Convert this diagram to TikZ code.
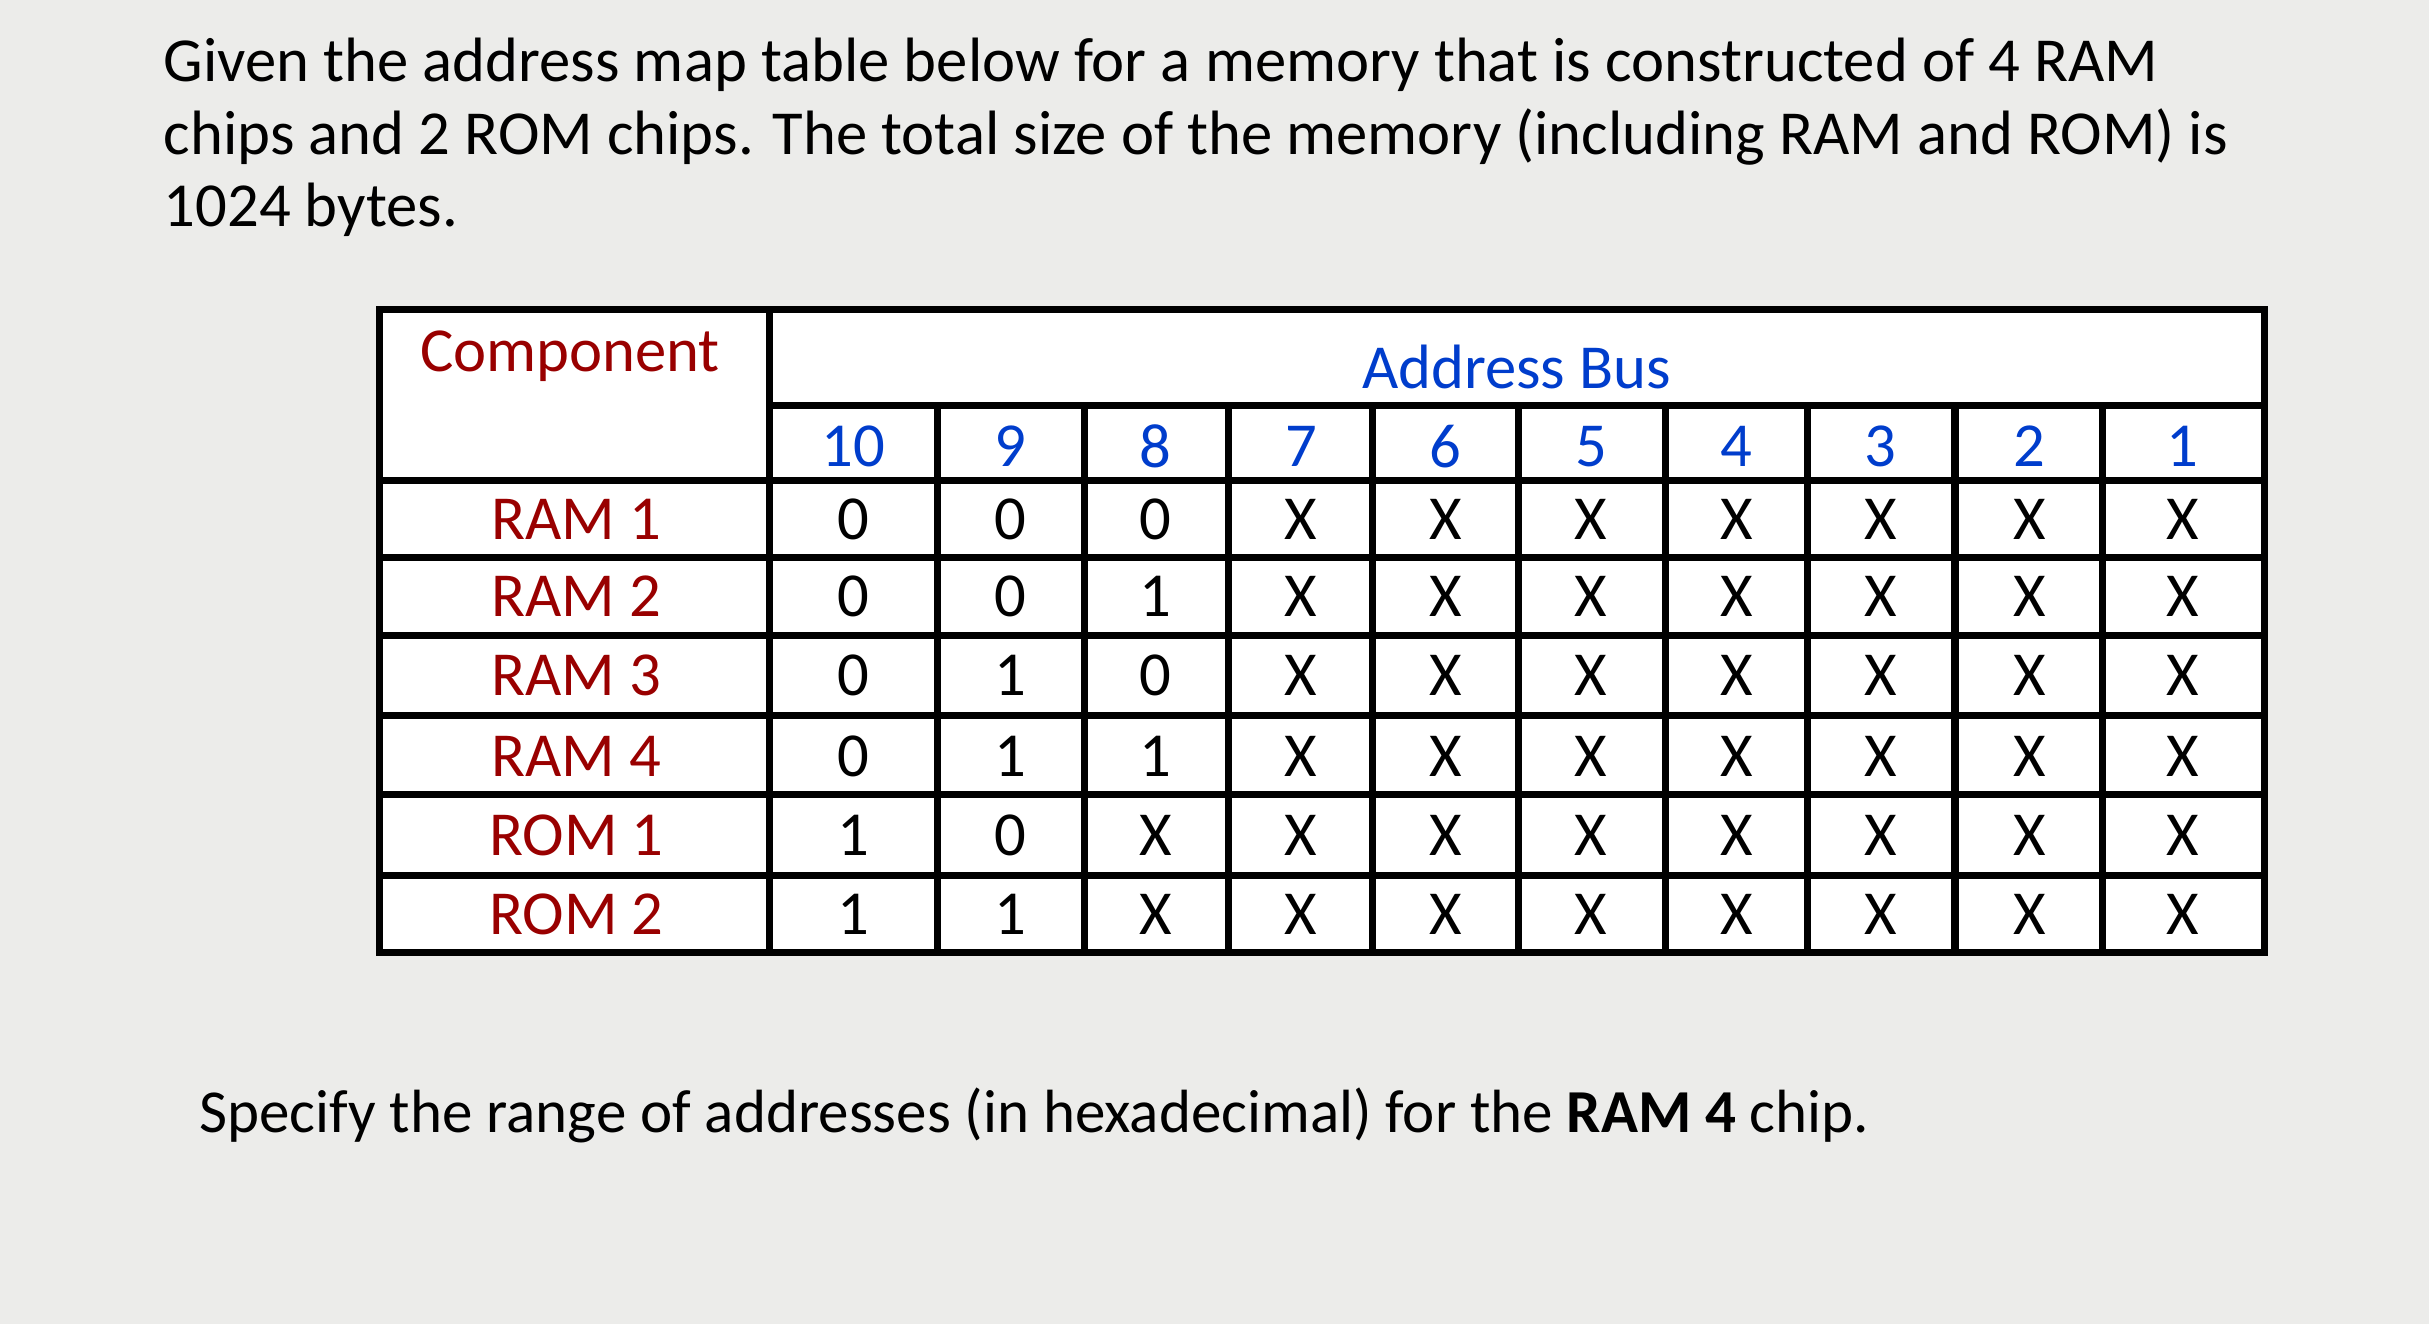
\documentclass[tikz,border=0pt]{standalone}
\usepackage{fontspec}
\setmainfont{Carlito}
\begin{document}
\begin{tikzpicture}[x=0.01cm,y=-0.01cm,
  red/.style={text=red!60!black},
  blu/.style={text=blue!70!cyan!80!black},
  cell/.style={font=\fontsize{11.5}{13}\selectfont}]
\definecolor{bg}{RGB}{236,236,234}
\fill[bg] (0,0) rectangle (1568,855);
\useasboundingbox (0,0) rectangle (1568,855);
\node[anchor=north west,align=left,font=\fontsize{11.5}{13.3}\selectfont,inner sep=0] (title) at (105,24)
{Given the address map table below for a memory that is constructed of 4 RAM\\chips and 2 ROM chips. The total size of the memory (including RAM and ROM) is\\1024 bytes.};
\fill[white] (245,200) rectangle (1462,615);
\draw[line width=1.3pt] (245,200) rectangle (1462,615);
\draw[line width=1.3pt] (497,200) -- (497,615);
\draw[line width=1.3pt] (497,262) -- (1462,262);
\draw[line width=1.3pt] (245,310) -- (1462,310);
\foreach \y in {360,410,462,513,565} \draw[line width=1.3pt] (245,\y) -- (1462,\y);
\foreach \x in {605,700,793,886,980,1075,1167,1262,1357} \draw[line width=1.3pt] (\x,262) -- (\x,615);
\node[cell,red] (comp) at (368,230) {Component};
\node[cell,blu] (ab) at (979,237) {Address Bus};
\foreach \n/\x in {10/551,9/652,8/746,7/840,6/933,5/1027,4/1121,3/1214,2/1310,1/1409}
  \node[cell,blu] (h\n) at (\x,288) {\n};
\foreach \lab/\y/\bits in {RAM 1/335/{0,0,0},RAM 2/385/{0,0,1},RAM 3/436/{0,1,0},RAM 4/488/{0,1,1},ROM 1/539/{1,0,X},ROM 2/590/{1,1,X}}{
  \node[cell,red] at (372,\y) {\lab};
  \foreach \b [count=\i] in \bits {
    \pgfmathsetmacro\xx{{551,652,746}[\i-1]}
    \node[cell] at (\xx,\y) {\b};}
  \foreach \xx in {840,933,1027,1121,1214,1310,1409} \node[cell] at (\xx,\y) {X};
}
\node[anchor=west,font=\fontsize{11.2}{13}\selectfont,inner sep=0] (q) at (128,720)
{Specify the range of addresses (in hexadecimal) for the \textbf{RAM 4} chip.};
\end{tikzpicture}
\end{document}
